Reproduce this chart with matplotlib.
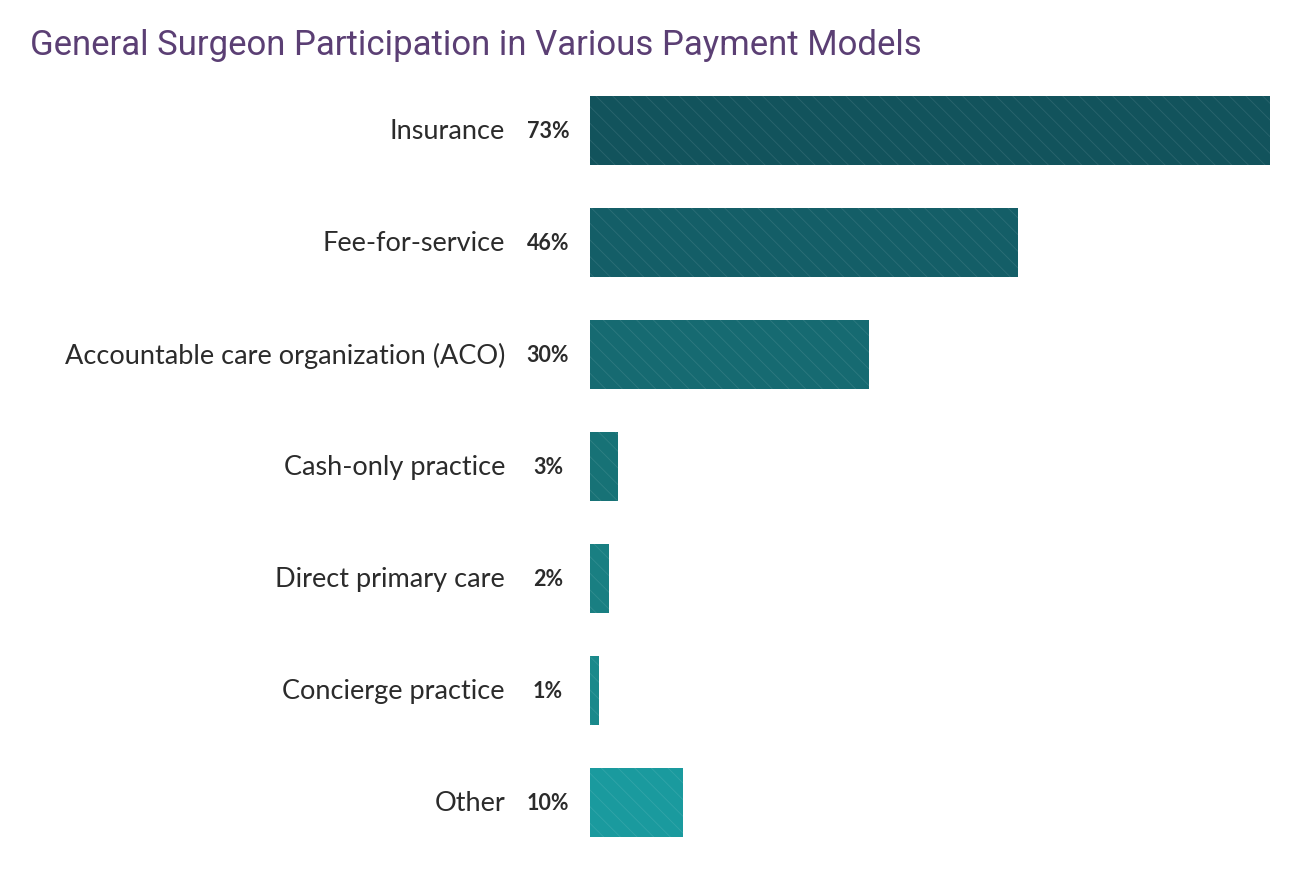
import matplotlib.pyplot as plt
import numpy as np

categories = ["Insurance", "Fee-for-service", "Accountable care organization (ACO)",
              "Cash-only practice", "Direct primary care", "Concierge practice", "Other"]
values = [73, 46, 30, 3, 2, 1, 10]
colors = ["#12535c", "#145e67", "#166a71", "#177276", "#197f82", "#1a898b", "#1a9a9e"]

plt.rcParams['font.family'] = ['Lato', 'DejaVu Sans']
plt.rcParams['hatch.linewidth'] = 0.6

fig = plt.figure(figsize=(12.9, 8.78), dpi=100)
ax = fig.add_axes([590 / 1290, 1 - 859.5 / 878, 680 / 1290, 784 / 878])

y = np.arange(len(categories))
ax.barh(y, values, height=0.616, color=colors, edgecolor='none')
# faint diagonal texture on the bars
ax.barh(y, values, height=0.616, fill=False, edgecolor=(1, 1, 1, 0.1),
        linewidth=0, hatch='\\\\')

for i, (cat, v) in enumerate(zip(categories, values)):
    ax.annotate(cat, xy=(0, i), xytext=(-85, 0), textcoords='offset pixels',
                ha='right', va='center', fontsize=19.5, color='#2b2b2b')
    ax.annotate(f"{v}%", xy=(0, i), xytext=(-42, 0), textcoords='offset pixels',
                ha='center', va='center', fontsize=15.5, fontweight='bold',
                color='#2b2b2b')

ax.set_xlim(0, 73)
ax.set_ylim(len(categories) - 0.5, -0.5)
ax.axis('off')

fig.text(30 / 1290, 1 - 46 / 878, "General Surgeon Participation in Various Payment Models",
         fontsize=25, color='#5b3f74', family=['Roboto', 'DejaVu Sans'],
         ha='left', va='center')

fig.savefig("out.png", dpi=100)
